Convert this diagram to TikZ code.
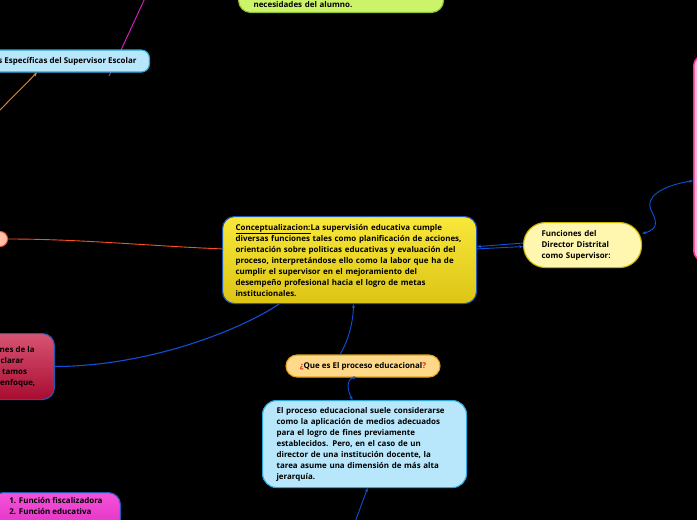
\documentclass[tikz,border=0pt]{standalone}
\usepackage{fontspec}
\setmainfont{Open Sans}
\usetikzlibrary{arrows.meta}
\definecolor{cyel1}{HTML}{F8E83A}
\definecolor{cyel2}{HTML}{DCC414}
\definecolor{cblue}{HTML}{1E5AB4}
\definecolor{lyel}{HTML}{FFF6B0}
\definecolor{lyelb}{HTML}{C8B400}
\definecolor{lorg}{HTML}{FFD98A}
\definecolor{lorgb}{HTML}{E0A020}
\definecolor{lblue}{HTML}{B8E6FB}
\definecolor{lblueb}{HTML}{2BA6DE}
\definecolor{dred1}{HTML}{D85474}
\definecolor{dred2}{HTML}{A80C30}
\definecolor{mag1}{HTML}{F452DA}
\definecolor{mag2}{HTML}{D820B8}
\definecolor{pinkf}{HTML}{FFB3D8}
\definecolor{pinkb}{HTML}{FF3090}
\definecolor{grnf}{HTML}{CCF46A}
\definecolor{grnb}{HTML}{90C030}
\definecolor{salf}{HTML}{FFC0A8}
\definecolor{salb}{HTML}{F06040}
\definecolor{linered}{HTML}{F85020}
\definecolor{lineblue}{HTML}{1050D8}
\definecolor{lineorg}{HTML}{E88A20}
\definecolor{linemag}{HTML}{E020C8}
\definecolor{qred}{HTML}{E02020}
\begin{document}
\begin{tikzpicture}[x=1pt,y=-1pt,
  every node/.style={font=\fontsize{7.95}{11}\selectfont\bfseries, text=black},
  boxstyle/.style={draw, line width=1.1pt, rounded corners=12pt, inner ysep=3pt},
  conn/.style={line width=0.9pt},
  tip/.style={-{Stealth[length=4pt,width=3.2pt]}},
  tipboth/.style={{Stealth[length=4pt,width=3.2pt]}-{Stealth[length=4pt,width=3.2pt]}}
]
\fill[black] (0,0) rectangle (697,520);
\useasboundingbox (0,0) rectangle (697,520);
\clip (0,0) rectangle (697,520);

% magenta line behind the specific node
\coordinate (m1) at (109,76);
\coordinate (m2) at (146,-4);
\draw[conn, linemag] (m1) -- (m2);

% nodes
\node[boxstyle, draw=grnb, fill=grnf, anchor=south west, minimum width=205pt,
      text width=175pt, inner xsep=15pt, inner ysep=5pt, align=left] (green) at (238,13)
      {\rule{0pt}{40pt}necesidades del alumno.};

\node[boxstyle, draw=lblueb, fill=lblue, anchor=east, minimum height=22pt,
      inner xsep=13pt, rounded corners=8pt] (spec) at (150,61)
      {s Específicas del Supervisor Escolar};

\node[circle, draw=salb, fill=salf, line width=1pt, minimum size=15pt, inner sep=0pt] (sal) at (0,239) {};

\node[boxstyle, draw=cblue, top color=cyel1, bottom color=cyel2, anchor=north west,
      minimum width=254pt, minimum height=87pt, text width=228pt, inner xsep=13pt, align=left] (concept) at (222,216)
      {\underline{Conceptualizacion:}La supervisión educativa cumple\\
       diversas funciones tales como planificación de acciones,\\
       orientación sobre politicas educativas y evaluación del\\
       proceso, interpretándose ello como la labor que ha de\\
       cumplir el supervisor en el mejoramiento del\\
       desempeño profesional hacia el logro de metas\\
       institucionales.};

\node[boxstyle, draw=lyelb, fill=lyel, anchor=north west, minimum width=118pt, minimum height=45pt,
      text width=82pt, inner xsep=18pt, rounded corners=22pt, align=left] (func) at (523,222)
      {Funciones del\\Director Distrital\\como Supervisor:};

\node[boxstyle, draw=pinkb, fill=pinkf, anchor=north west, minimum width=40pt, minimum height=205pt,
      rounded corners=10pt, line width=1.5pt] (pink) at (693,55) {};

\node[boxstyle, draw=cblue, top color=dred1, bottom color=dred2, anchor=north east,
      minimum width=74pt, minimum height=66pt, align=left] (red) at (55,333)
      {nes de la\\\hspace*{1pt}clarar\\\hspace*{2.5pt}tamos\\\hspace*{0.5pt}enfoque,};

\node[boxstyle, draw=lorgb, fill=lorg, minimum width=154pt, minimum height=22pt,
      rounded corners=11pt] (quees) at (363,366)
      {{\color{qred}¿}Que es El proceso educacional{\color{qred}?}};

\node[boxstyle, draw=lblueb, fill=lblue, anchor=north west, minimum width=204pt, minimum height=87pt,
      text width=176pt, inner xsep=14pt, rounded corners=14pt, align=left] (blue) at (262,400)
      {El proceso educacional suele considerarse\\
       como la aplicación de medios adecuados\\
       para el logro de fines previamente\\
       establecidos. Pero, en el caso de un\\
       director de una institución docente, la\\
       tarea asume una dimensión de más alta\\
       jerarquía.};

\node[boxstyle, draw=cblue, top color=mag1, bottom color=mag2, anchor=north east,
      minimum width=129pt, inner ysep=5pt, align=left] (magn) at (121,492)
      {1. Función fiscalizadora\\2. Función educativa\rule[-30pt]{0pt}{0pt}};

% connectors
\coordinate (o1) at (-5,115);
\draw[conn, lineorg, tip] (o1) -- ([xshift=-113pt]spec.south east);

\draw[conn, linered] (sal.east) .. controls (80,239) and (150,246) .. (concept.175);

\draw[conn, lineblue, line width=1.1pt] (red.east) .. controls (150,366) and (240,330) .. (concept.212);

\draw[conn, lineblue, tip] ([yshift=2pt]func.west) -- (concept.6);
\draw[conn, lineblue, tip] (concept.5) -- ([yshift=-1.5pt]func.west);

\draw[conn, lineblue, tipboth] (func.11) .. controls (660,229) and (656,220) .. (651,210)
      .. controls (645,198) and (660,186) .. ([yshift=-22.5pt]pink.west);

\draw[conn, lineblue, tip] ([xshift=-23pt]quees.north) .. controls (347,343) and (353,325) .. ([xshift=4pt]concept.south);

\draw[conn, lineblue, tipboth] ([xshift=-6pt]quees.south) .. controls (345,378) and (348,392) .. ([xshift=-12pt]blue.north);

\coordinate (b1) at (354,525);
\draw[conn, lineblue, tip] (b1) -- ([xshift=3pt]blue.south);
\end{tikzpicture}
\end{document}
